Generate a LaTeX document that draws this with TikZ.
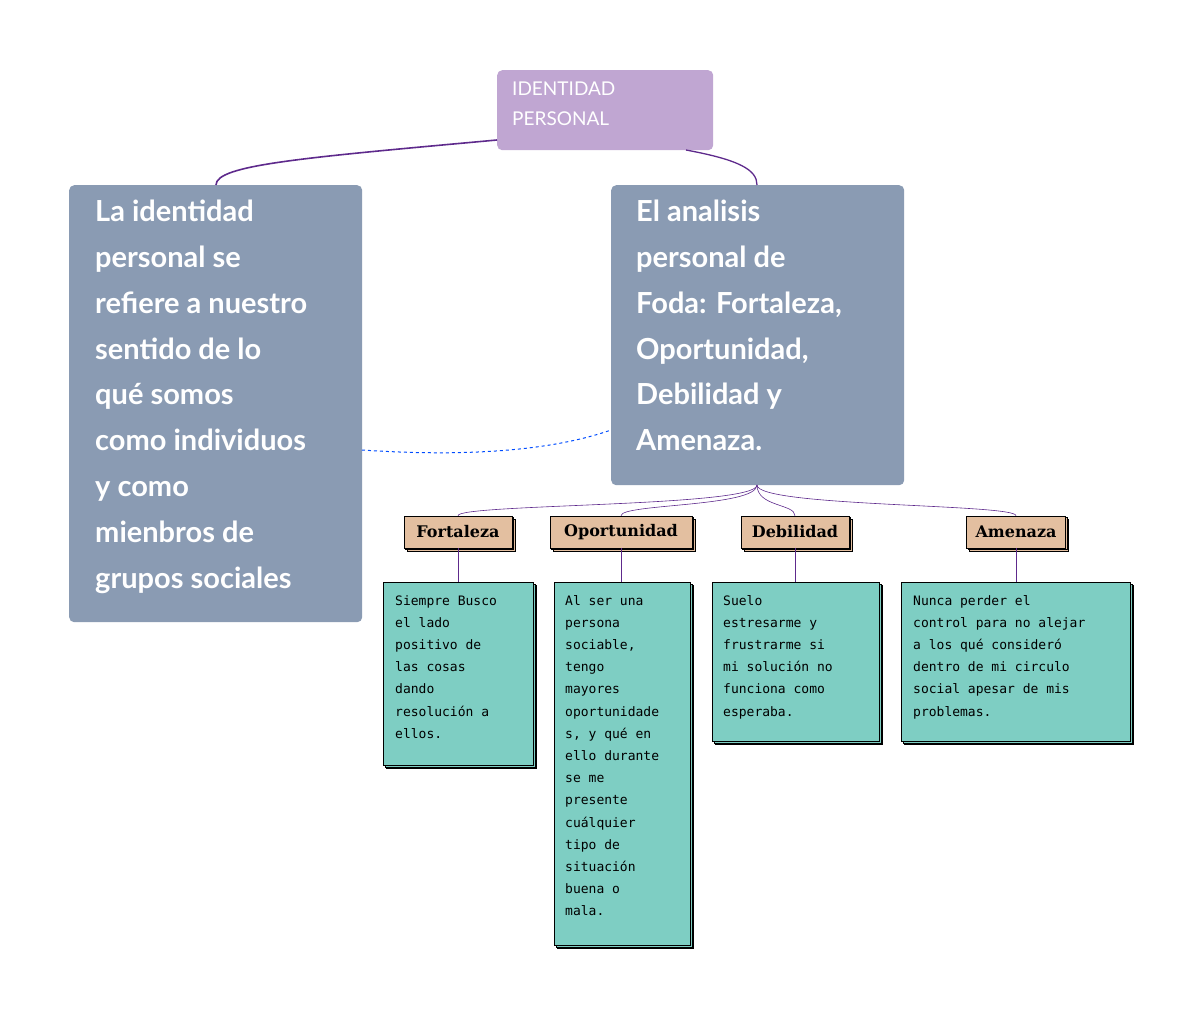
\documentclass[tikz,border=0pt]{standalone}
\usetikzlibrary{shadows,calc}
\usepackage{fontspec}
\setmainfont{Lato}
\newfontfamily\monof{DejaVu Sans Mono}
\newfontfamily\labf{DejaVu Serif}
\definecolor{purp}{HTML}{C0A6D2}
\definecolor{slate}{HTML}{8A9BB3}
\definecolor{teal}{HTML}{7ECEC3}
\definecolor{tan}{HTML}{E3BFA0}
\definecolor{line}{HTML}{5E2A8C}
\begin{document}
\begin{tikzpicture}[x=1pt,y=-1pt,
  big/.style={fill=slate,rounded corners=5pt,anchor=north west,inner sep=0pt},
  lab/.style={draw=black,fill=tan,line width=0.6pt,minimum height=32pt,inner sep=0pt,font=\labf\bfseries\fontsize{16}{18}\selectfont,
     double copy shadow={shadow xshift=1.5pt,shadow yshift=-1.5pt}},
  tb/.style={draw=black,fill=teal,line width=0.6pt,anchor=north west,inner sep=0pt,
     double copy shadow={shadow xshift=1.5pt,shadow yshift=-1.5pt}},
  tt/.style={anchor=north west,align=left,inner sep=0pt,font=\monof\fontsize{13}{22.2}\selectfont},
  conn/.style={line,line width=0.8pt}]
\useasboundingbox (0,0) rectangle (1200,1018);
% title
\node[fill=purp,rounded corners=5pt,anchor=north west,minimum width=216pt,minimum height=80pt,inner sep=0pt] (t) at (497,70) {};
\node[anchor=north west,align=left,text=white,font=\fontsize{19}{30}\selectfont,inner sep=0pt] (tl) at (512,82) {IDENTIDAD\\PERSONAL};
% big boxes
\node[big,minimum width=293pt,minimum height=437pt] (L) at (69,185) {};
\node[big,minimum width=293pt,minimum height=300pt] (R) at (611,185) {};
\node[anchor=north west,align=left,text=white,font=\bfseries\fontsize{29}{45.8}\selectfont,inner sep=0pt] (Lt) at (95,200) {La identidad\\personal se\\refiere a nuestro\\sentido de lo\\qué somos\\como individuos\\y como\\mienbros de\\grupos sociales};
\node[anchor=north west,align=left,text=white,font=\bfseries\fontsize{29}{45.8}\selectfont,inner sep=0pt] (Rt) at (636,200) {El analisis\\personal de\\Foda: Fortaleza,\\Oportunidad,\\Debilidad y\\Amenaza.};
\coordinate (tL) at (497,140); \coordinate (tR) at (686,150);
\coordinate (Ltop) at (216,185); \coordinate (Rtop) at (757,185);
\draw[conn,line width=1.6pt] (tL) .. controls (300,158) and (216,165) .. (Ltop);
\draw[conn,line width=1.3pt] (tR) .. controls (740,160) and (757,170) .. (Rtop);
\coordinate (Ld) at (362,450); \coordinate (Rd) at (611,430);
\draw[blue!70!cyan,dashed,line width=1pt] (Ld) .. controls (480,458) and (560,448) .. (Rd);
% labels
\node[lab,minimum width=108pt] (f) at (458,532) {Fortaleza};
\node[lab,minimum width=142pt] (o) at (621,532) {Oportunidad};
\node[lab,minimum width=108pt] (d) at (795,532) {Debilidad};
\node[lab,minimum width=99pt] (a) at (1016,532) {Amenaza};
\coordinate (Rb) at (757,485);
\foreach \n in {f,o,d,a} \draw[conn,line width=0.6pt] (Rb) .. controls ($(Rb)+(0,22)$) and ($(\n.north)+(0,-12)$) .. (\n.north);
% teal boxes
\node[tb,minimum width=150pt,minimum height=183pt] (b1) at (383,582) {};
\node[tb,minimum width=136pt,minimum height=363pt] (b2) at (554,582) {};
\node[tb,minimum width=167pt,minimum height=159pt] (b3) at (712,582) {};
\node[tb,minimum width=229pt,minimum height=159pt] (b4) at (901,582) {};
\draw[conn,line width=0.6pt] (f.south) -- (f.south |- b1.north);
\draw[conn,line width=0.6pt] (o.south) -- (o.south |- b2.north);
\draw[conn,line width=0.6pt] (d.south) -- (d.south |- b3.north);
\draw[conn,line width=0.6pt] (a.south) -- (a.south |- b4.north);
\node[tt] (x1) at (395,595) {Siempre Busco\\el lado\\positivo de\\las cosas\\dando\\resolución a\\ellos.};
\node[tt] (x2) at (565,595) {Al ser una\\persona\\sociable,\\tengo\\mayores\\oportunidade\\s, y qué en\\ello durante\\se me\\presente\\cuálquier\\tipo de\\situación\\buena o\\mala.};
\node[tt] (x3) at (723,595) {Suelo\\estresarme y\\frustrarme si\\mi solución no\\funciona como\\esperaba.};
\node[tt] (x4) at (913,595) {Nunca perder el\\control para no alejar\\a los qué consideró\\dentro de mi circulo\\social apesar de mis\\problemas.};
\end{tikzpicture}
\end{document}
